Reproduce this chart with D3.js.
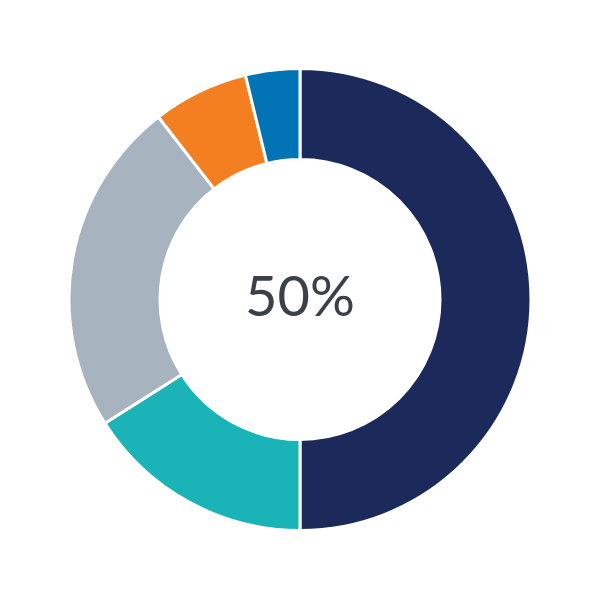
<!DOCTYPE html>
<html>
<head>
<meta charset="utf-8">
<script src="https://cdn.jsdelivr.net/npm/d3@7"></script>
<style>
  body { margin: 0; background: #fff; }
</style>
</head>
<body>
<div id="chart"></div>
<script>
// Slice names, values (percent) and colours, clockwise from 12 o'clock
let names  = ['A', 'B', 'C', 'D', 'E'];
let values = [50, 16, 23.5, 6.7, 3.8];
let colors = ['#1b2a5a', '#1ab3b8', '#a8b3c0', '#f47f20', '#0274b6'];
let centerLabel = '50%';

let svgWidth = 600, svgHeight = 600;
let outerR = 231, innerR = 140;

let svg = d3.select('#chart')
            .append('svg')
            .attr('width', svgWidth)
            .attr('height', svgHeight);

let g = svg.append('g')
           .attr('transform', `translate(300, 299.5)`);

let data = names.map((n, i) => ({ name: n, value: values[i], color: colors[i] }));

let pie = d3.pie()
            .sort(null)
            .value(d => d.value);

let arc = d3.arc()
            .innerRadius(innerR)
            .outerRadius(outerR);

// Draw slices
g.selectAll('path')
 .data(pie(data))
 .enter()
 .append('path')
 .attr('d', arc)
 .attr('fill', d => d.data.color)
 .attr('stroke', '#fff')
 .attr('stroke-width', 3);

// Center text
g.append('text')
 .attr('text-anchor', 'middle')
 .attr('dy', '0.29em')
 .attr('font-family', 'Lato, sans-serif')
 .attr('font-size', 56)
 .attr('fill', '#3b4049')
 .text(centerLabel);
</script>
</body>
</html>
